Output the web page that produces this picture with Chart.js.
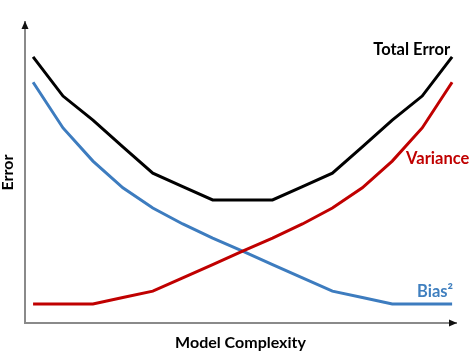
<!DOCTYPE html>
<html>
<head>
<meta charset="utf-8">
<script src="https://cdn.jsdelivr.net/npm/chart.js@4"></script>
<style>
  html, body { margin: 0; padding: 0; background: #fff; }
  #wrap { width: 474px; height: 356px; position: relative; }
</style>
</head>
<body>
<div id="wrap"><canvas id="c"></canvas></div>
<script>
// Model complexity steps (x positions)
const complexity = [0, 1, 2, 3, 4, 5, 6, 7, 8, 9, 10, 11, 12, 13, 14];
// Series values (relative error, 0-100 scale)
const totalError = [88.4, 75.4, 67.4, 58.5, 49.8, 45.3, 40.9, 40.9, 40.9, 45.3, 49.8, 58.5, 67.4, 75.4, 88.4];
const variance   = [6.3, 6.3, 6.3, 8.5, 10.6, 15.0, 19.4, 23.9, 28.2, 32.9, 38.2, 44.9, 53.8, 64.8, 80.0];
const bias2      = [80.0, 64.8, 53.8, 44.9, 38.2, 32.9, 28.2, 23.9, 19.4, 15.0, 10.6, 8.5, 6.3, 6.3, 6.3];
// Labels
const seriesNames = ['Total Error', 'Variance', 'Bias\u00B2'];
const xTitle = 'Model Complexity';
const yTitle = 'Error';

const FONT = 'Lato, "Open Sans", "DejaVu Sans", sans-serif';
const LABEL_SIZE = 16.5;
const toPts = arr => complexity.map((x, i) => ({ x: x, y: arr[i] }));

const seriesLabelPlugin = {
  id: 'seriesLabels',
  afterDatasetsDraw(chart) {
    const ctx = chart.ctx;
    const spec = [
      { align: 'right', dx: -2,  dy: -2, color: '#000000' },
      { align: 'left',  dx: -46, dy: 82, color: '#C00000' },
      { align: 'right', dx: 1,   dy: -7, color: '#3F7FBF' }
    ];
    chart.data.datasets.forEach((ds, i) => {
      const meta = chart.getDatasetMeta(i);
      const pt = meta.data[meta.data.length - 1];
      const s = spec[i];
      ctx.save();
      ctx.font = 'bold ' + LABEL_SIZE + 'px ' + FONT;
      ctx.fillStyle = s.color;
      ctx.textAlign = s.align;
      ctx.textBaseline = 'alphabetic';
      ctx.fillText(ds.label, pt.x + s.dx, pt.y + s.dy);
      ctx.restore();
    });
  }
};

const arrowPlugin = {
  id: 'axisArrows',
  afterDraw(chart) {
    const { ctx, chartArea: a } = chart;
    ctx.save();
    ctx.fillStyle = '#111111';
    // x axis arrow (pointing right)
    ctx.beginPath();
    ctx.moveTo(a.right + 1, a.bottom);
    ctx.lineTo(a.right - 7, a.bottom - 3.5);
    ctx.lineTo(a.right - 7, a.bottom + 3.5);
    ctx.closePath();
    ctx.fill();
    // y axis arrow (pointing up)
    ctx.beginPath();
    ctx.moveTo(a.left, a.top - 1);
    ctx.lineTo(a.left - 3.5, a.top + 7);
    ctx.lineTo(a.left + 3.5, a.top + 7);
    ctx.closePath();
    ctx.fill();
    ctx.restore();
  }
};

new Chart(document.getElementById('c'), {
  type: 'line',
  data: {
    datasets: [
      { label: seriesNames[0], data: toPts(totalError), borderColor: '#000000', borderWidth: 3, pointRadius: 0, tension: 0, fill: false },
      { label: seriesNames[1], data: toPts(variance),   borderColor: '#C00000', borderWidth: 3, pointRadius: 0, tension: 0, fill: false },
      { label: seriesNames[2], data: toPts(bias2),      borderColor: '#3D7CBF', borderWidth: 3, pointRadius: 0, tension: 0, fill: false }
    ]
  },
  options: {
    responsive: true,
    maintainAspectRatio: false,
    animation: false,
    events: [],
    layout: { padding: { top: 22, right: 18, left: 0, bottom: 0 } },
    plugins: { legend: { display: false }, tooltip: { enabled: false }, title: { display: false } },
    scales: {
      x: {
        type: 'linear',
        min: -0.27,
        max: 14.13,
        grid: { display: false },
        ticks: { display: false },
        border: { display: true, color: '#8A8A8A', width: 2 },
        title: { display: true, text: xTitle, color: '#000000', font: { family: FONT, size: 16, weight: 'bold', lineHeight: 1.2 }, padding: { top: 0, bottom: 4 } },
        afterFit(s) { s.height = 33; }
      },
      y: {
        type: 'linear',
        min: 0,
        max: 100,
        grid: { display: false },
        ticks: { display: false },
        border: { display: true, color: '#8A8A8A', width: 2 },
        title: { display: true, text: yTitle, color: '#000000', font: { family: FONT, size: 16, weight: 'bold', lineHeight: 1 }, padding: { top: 0, bottom: 0 } },
        afterFit(s) { s.width = 25; }
      }
    }
  },
  plugins: [seriesLabelPlugin, arrowPlugin]
});
</script>
</body>
</html>
